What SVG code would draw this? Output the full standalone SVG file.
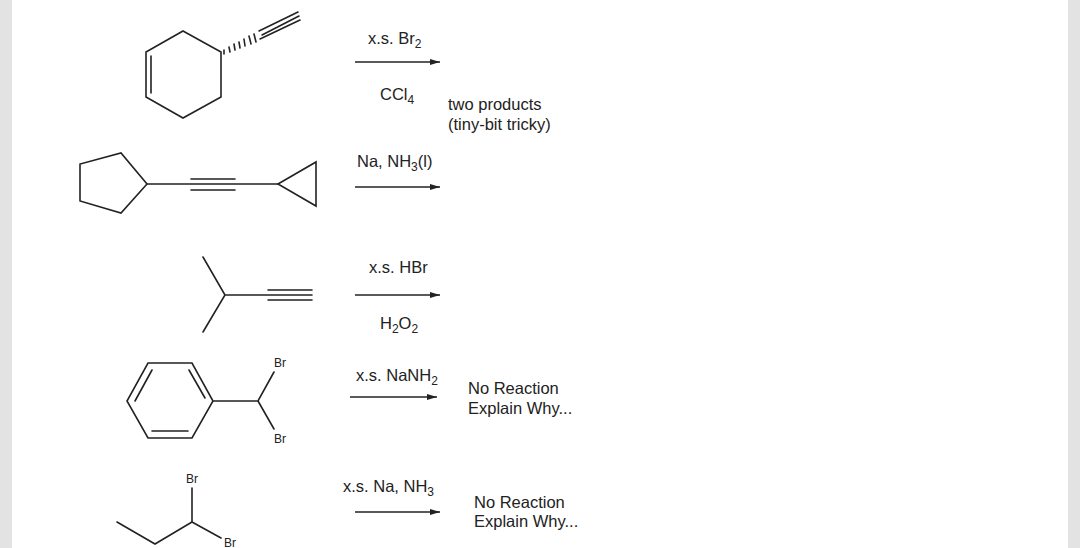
<svg xmlns="http://www.w3.org/2000/svg" width="1080" height="548" viewBox="0 0 1080 548">
<defs>
<marker id="ah" markerWidth="10" markerHeight="6" refX="10" refY="3" orient="auto" markerUnits="userSpaceOnUse"><path d="M0,0 L10,3 L0,6 z" fill="#222"/></marker>
</defs>
<style>
.b{stroke:#222;stroke-width:1.6;fill:none;stroke-linecap:round}
.t{font-family:"Liberation Sans",Arial,sans-serif;font-size:16.5px;fill:#222}
.s{font-family:"Liberation Sans",Arial,sans-serif;font-size:12px;fill:#222}
.a{stroke:#222;stroke-width:1.6;marker-end:url(#ah)}
</style>
<rect width="1080" height="548" fill="#fff"/>
<rect x="0" y="0" width="12" height="548" fill="#e3e3e3"/>
<rect x="1068" y="0" width="12" height="548" fill="#e3e3e3"/>
<g id="m1">
<path class="b" d="M183,31 L221,52 L221,97 L183,118 L146,97 L146,52 Z M151,56 L151,93"/>
<path class="b" d="M224,50 L224,54 M229,47 L230,52 M234,44 L235,50 M239,42 L240,48 M244,39 L245,46 M249,36 L251,44 M254,34 L256,42"/>
<path class="b" d="M259,31 L298,12 M262,35 L299,16 M260,39 L300,20"/>
</g>
<g id="m2">
<path class="b" d="M147,184 L121,213 L80,201 L80,164 L121,153 Z"/>
<path class="b" d="M147,184 L278,184 M191,179 L235,179 M191,190 L235,190"/>
<path class="b" d="M278,184 L316,162 L316,206 Z"/>
</g>
<g id="m3">
<path class="b" d="M203,257 L225,295 L203,332 M225,295 L312,295 M268,290 L312,290 M268,300 L312,300"/>
</g>
<g id="m4">
<path class="b" d="M148,363 L192,363 L213,401 L192,438 L148,438 L127,401 Z M152,370 L135,401 M189,370 L205,398 M152,431 L188,431 M213,401 L258,401 L274,372 M258,401 L274,429"/>
<text class="s" x="274" y="367">Br</text>
<text class="s" x="274" y="443">Br</text>
</g>
<g id="m5">
<path class="b" d="M117,522 L155,544 L192,522 L192,488 M192,522 L221,538"/>
<text class="s" x="186" y="483">Br</text>
<text class="s" x="224" y="547">Br</text>
</g>
<g id="connectors">
<line class="a" x1="355" y1="62" x2="440" y2="62"/>
<line class="a" x1="355" y1="187" x2="440" y2="187"/>
<line class="a" x1="355" y1="295" x2="440" y2="295"/>
<line class="a" x1="350" y1="397" x2="437" y2="397"/>
<line class="a" x1="355" y1="512" x2="440" y2="512"/>
</g>
<g id="labels">
<text class="t" x="368" y="44">x.s. Br<tspan font-size="12" dy="4">2</tspan></text>
<text class="t" x="380" y="100">CCl<tspan font-size="12" dy="4">4</tspan></text>
<text class="t" x="448" y="110">two products</text>
<text class="t" x="448" y="130">(tiny-bit tricky)</text>
<text class="t" x="357" y="167">Na, NH<tspan font-size="12" dy="4">3</tspan><tspan dy="-4">(l)</tspan></text>
<text class="t" x="369" y="273">x.s. HBr</text>
<text class="t" x="380" y="329">H<tspan font-size="12" dy="4">2</tspan><tspan dy="-4">O</tspan><tspan font-size="12" dy="4">2</tspan></text>
<text class="t" x="356" y="381">x.s. NaNH<tspan font-size="12" dy="4">2</tspan></text>
<text class="t" x="468" y="394">No Reaction</text>
<text class="t" x="468" y="414">Explain Why...</text>
<text class="t" x="343" y="492">x.s. Na, NH<tspan font-size="12" dy="4">3</tspan></text>
<text class="t" x="474" y="508">No Reaction</text>
<text class="t" x="474" y="527">Explain Why...</text>
</g>
</svg>
